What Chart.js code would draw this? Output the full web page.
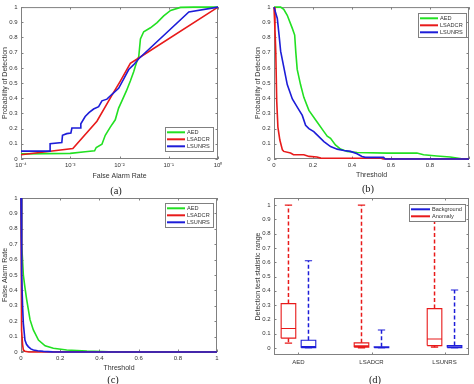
<!DOCTYPE html>
<html>
<head>
<meta charset="utf-8">
<script src="https://cdn.jsdelivr.net/npm/chart.js@4.4.0/dist/chart.umd.min.js"></script>
<style>
  body { margin: 0; background: #fff; }
  #fig { position: relative; width: 474px; height: 384px; overflow: hidden; background: #fff; }
  canvas { position: absolute; }
  .cap { position: absolute; font-family: 'Liberation Serif', serif; font-size: 10.5px; color: #222; transform: translate(-50%, -50%); white-space: nowrap; }
</style>
</head>
<body>
<div id="fig">
  <canvas id="chartA" width="237" height="200" style="left:0;top:0"></canvas>
  <canvas id="chartB" width="237" height="200" style="left:237px;top:0"></canvas>
  <canvas id="chartC" width="237" height="194" style="left:0;top:190px"></canvas>
  <canvas id="chartD" width="237" height="194" style="left:237px;top:190px"></canvas>
  <div class="cap" style="left:116px;top:190px">(a)</div>
  <div class="cap" style="left:368px;top:188px">(b)</div>
  <div class="cap" style="left:113px;top:379px">(c)</div>
  <div class="cap" style="left:375px;top:379px">(d)</div>
</div>
<script>
// ---- data ----
const methods = ['AED', 'LSADCR', 'LSUNRS'];

const yTicks = [0, 0.1, 0.2, 0.3, 0.4, 0.5, 0.6, 0.7, 0.8, 0.9, 1];
const yTickLabels = ['0', '0.1', '0.2', '0.3', '0.4', '0.5', '0.6', '0.7', '0.8', '0.9', '1'];
const thrTicks = [0, 0.2, 0.4, 0.6, 0.8, 1];
const thrTickLabels = ['0', '0.2', '0.4', '0.6', '0.8', '1'];
const farTicks = [1e-4, 1e-3, 1e-2, 1e-1, 1];
const farTickLabels = ['10⁻⁴', '10⁻³', '10⁻²', '10⁻¹', '10⁰'];

// (a) ROC: false alarm rate vs probability of detection
const aedFarA = [1e-4, 1e-3, 2.01e-3, 3.12e-3, 3.37e-3, 4.4e-3, 5.14e-3, 6.5e-3, 8.2e-3, 9.6e-3, 1.12e-2, 1.38e-2, 1.66e-2, 1.94e-2, 2.2e-2, 2.46e-2, 2.66e-2, 3.1e-2, 4.25e-2, 5.8e-2, 7.9e-2, 0.109, 0.173, 0.324, 1];
const aedPdA = [0.034, 0.037, 0.048, 0.054, 0.076, 0.097, 0.156, 0.21, 0.258, 0.335, 0.383, 0.448, 0.513, 0.574, 0.632, 0.675, 0.79, 0.838, 0.864, 0.898, 0.942, 0.978, 0.998, 1, 1];
const lsadcrFarA = [1e-4, 1.13e-3, 3.48e-3, 7.04e-3, 1.04e-2, 1.66e-2, 2.46e-2, 1];
const lsadcrPdA = [0.028, 0.069, 0.249, 0.42, 0.513, 0.63, 0.665, 1];
const lsunrsFarA = [1e-4, 3.9e-4, 3.9e-4, 6.74e-4, 6.96e-4, 8.5e-4, 1.03e-3, 1.08e-3, 1.59e-3, 1.64e-3, 2.01e-3, 2.43e-3, 2.98e-3, 3.77e-3, 4.4e-3, 5.56e-3, 7.03e-3, 9.6e-3, 1.22e-2, 1.54e-2, 1.94e-2, 2.46e-2, 0.256, 1];
const lsunrsPdA = [0.052, 0.052, 0.1, 0.108, 0.156, 0.167, 0.171, 0.204, 0.204, 0.232, 0.28, 0.307, 0.329, 0.344, 0.383, 0.394, 0.426, 0.465, 0.528, 0.589, 0.621, 0.66, 0.968, 1];

// (b) threshold vs probability of detection
const aedThrB = [0, 0.034, 0.05, 0.068, 0.094, 0.106, 0.112, 0.119, 0.136, 0.153, 0.179, 0.221, 0.256, 0.273, 0.29, 0.315, 0.341, 0.375, 0.426, 0.58, 0.733, 0.767, 0.835, 0.903, 0.937, 0.97, 1];
const aedPdB = [1, 1, 0.985, 0.946, 0.86, 0.816, 0.7, 0.59, 0.49, 0.406, 0.32, 0.244, 0.18, 0.15, 0.136, 0.093, 0.065, 0.05, 0.043, 0.039, 0.039, 0.028, 0.02, 0.013, 0.006, 0, 0];
const lsadcrThrB = [0, 0.005, 0.009, 0.014, 0.02, 0.03, 0.043, 0.05, 0.085, 0.1, 0.153, 0.18, 0.22, 0.24, 0.3, 0.55, 0.56, 1];
const lsadcrPdB = [1, 0.85, 0.71, 0.38, 0.21, 0.125, 0.06, 0.05, 0.039, 0.028, 0.028, 0.017, 0.013, 0.006, 0.005, 0.005, 0, 0];
const lsunrsThrB = [0, 0.003, 0.017, 0.026, 0.034, 0.051, 0.068, 0.094, 0.12, 0.145, 0.162, 0.179, 0.204, 0.23, 0.256, 0.29, 0.324, 0.358, 0.392, 0.426, 0.451, 0.468, 0.562, 0.57, 1];
const lsunrsPdB = [1, 1, 0.925, 0.816, 0.71, 0.6, 0.49, 0.395, 0.34, 0.287, 0.222, 0.2, 0.18, 0.147, 0.115, 0.082, 0.065, 0.056, 0.05, 0.035, 0.017, 0.011, 0.011, 0, 0];

// (c) threshold vs false alarm rate
const aedThrC = [0, 0.002, 0.005, 0.012, 0.02, 0.029, 0.046, 0.063, 0.089, 0.123, 0.165, 0.233, 0.336, 0.45, 0.6, 1];
const aedFarC = [1, 0.85, 0.7, 0.5, 0.42, 0.34, 0.21, 0.143, 0.078, 0.04, 0.024, 0.013, 0.006, 0.002, 0, 0];
const lsadcrThrC = [0, 0.001, 0.003, 0.005, 0.008, 0.012, 0.02, 0.04, 1];
const lsadcrFarC = [1, 0.6, 0.3, 0.14, 0.05, 0.013, 0.005, 0, 0];
const lsunrsThrC = [0, 0.002, 0.005, 0.008, 0.012, 0.02, 0.028, 0.037, 0.05, 0.063, 0.085, 0.114, 0.16, 0.25, 1];
const lsunrsFarC = [1, 0.75, 0.5, 0.3, 0.186, 0.078, 0.05, 0.035, 0.02, 0.013, 0.008, 0.004, 0.001, 0, 0];

// (d) box plots of the detection statistic
const groupPos = [1, 2, 3];
const anomMin = [0.033, 0, 0.005];
const anomQ1 = [0.068, 0.005, 0.016];
const anomMed = [0.136, 0.014, 0.062];
const anomQ3 = [0.31, 0.035, 0.275];
const anomMax = [1, 1, 1];
const bgMin = [0, 0, 0];
const bgQ1 = [0.001, 0.001, 0.002];
const bgMed = [0.009, 0.003, 0.008];
const bgQ3 = [0.053, 0.007, 0.017];
const bgMax = [0.61, 0.125, 0.405];

// ---- styles ----
const green = '#22e022';
const red = '#e81a1a';
const blue = '#1d1dd8';
const textCol = '#333';
const frameCol = '#808080';
const tickFont = { family: 'Liberation Sans', size: 6 };
const titleFont = { family: 'Liberation Sans', size: 7 };

Chart.defaults.font.family = 'Liberation Sans';

function pts(xs, ys) {
  return xs.map((x, i) => ({ x: x, y: ys[i] }));
}

function curve(label, color, xs, ys, order) {
  return {
    label: label, data: pts(xs, ys), borderColor: color, backgroundColor: color,
    borderWidth: 1.6, pointRadius: 0, showLine: true, tension: 0, clip: 4,
    order: order, inLegend: true
  };
}

function axisX(type, min, max, ticks, labels, title, height, pad) {
  return {
    type: type, min: min, max: max,
    grid: { display: false, drawTicks: false },
    border: { display: false },
    ticks: { padding: pad, font: tickFont, color: textCol, autoSkip: false, maxRotation: 0,
      callback: (v, i) => labels[i] },
    afterBuildTicks: (s) => { s.ticks = ticks.map(v => ({ value: v })); },
    afterFit: (s) => { s.height = height; },
    title: { display: !!title, text: title || '', font: titleFont, color: textCol, padding: { top: 0, bottom: 0 } }
  };
}

function axisY(min, max, title, width, titlePad) {
  return {
    type: 'linear', min: min, max: max,
    grid: { display: false, drawTicks: false },
    border: { display: false },
    ticks: { padding: 3.5, font: tickFont, color: textCol, autoSkip: false,
      callback: (v, i) => yTickLabels[i] },
    afterBuildTicks: (s) => { s.ticks = yTicks.map(v => ({ value: v })); },
    afterFit: (s) => { s.width = width; },
    title: { display: true, text: title, font: titleFont, color: textCol, padding: { top: titlePad, bottom: 0 } }
  };
}

// box with inward ticks on all sides, plus a boxed legend inside the plot
const matlabAxes = {
  id: 'matlabAxes',
  beforeDatasetsDraw(chart) {
    const { ctx, chartArea: a } = chart;
    const sx = chart.scales.x, sy = chart.scales.y;
    ctx.save();
    ctx.strokeStyle = frameCol;
    ctx.lineWidth = 1;
    ctx.strokeRect(a.left + 0.5, a.top + 0.5, a.width - 1, a.height - 1);
    ctx.beginPath();
    sx.ticks.forEach(t => {
      const p = Math.round(sx.getPixelForValue(t.value)) + 0.5;
      ctx.moveTo(p, a.bottom); ctx.lineTo(p, a.bottom - 2.5);
      ctx.moveTo(p, a.top); ctx.lineTo(p, a.top + 2.5);
    });
    sy.ticks.forEach(t => {
      const p = Math.round(sy.getPixelForValue(t.value)) + 0.5;
      ctx.moveTo(a.left, p); ctx.lineTo(a.left + 2.5, p);
      ctx.moveTo(a.right, p); ctx.lineTo(a.right - 2.5, p);
    });
    ctx.stroke();
    ctx.restore();
  },
  afterDraw(chart, args, opts) {
    const items = chart.data.datasets.filter(d => d.inLegend);
    if (!items.length) return;
    const { ctx, chartArea: a } = chart;
    ctx.save();
    ctx.font = '5.6px "Liberation Sans"';
    const tw = Math.max(...items.map(d => ctx.measureText(d.label).width));
    const rowH = 7;
    const w = Math.round(2 + opts.lineLen + 2 + tw + 3);
    const h = Math.round(items.length * rowH + 3);
    const x0 = Math.round(a.right - opts.dx - w);
    const y0 = Math.round(opts.corner === 'se' ? a.bottom - opts.dy - h : a.top + opts.dy);
    ctx.fillStyle = '#fff';
    ctx.fillRect(x0, y0, w, h);
    ctx.strokeStyle = frameCol;
    ctx.lineWidth = 1;
    ctx.strokeRect(x0 + 0.5, y0 + 0.5, w, h);
    items.forEach((d, i) => {
      const cy = y0 + 1.8 + rowH * (i + 0.5);
      ctx.strokeStyle = d.borderColor;
      ctx.lineWidth = 2;
      ctx.setLineDash([]);
      ctx.beginPath();
      ctx.moveTo(x0 + 2, cy);
      ctx.lineTo(x0 + 2 + opts.lineLen, cy);
      ctx.stroke();
      ctx.fillStyle = textCol;
      ctx.textBaseline = 'middle';
      ctx.textAlign = 'left';
      ctx.fillText(d.label, x0 + 4 + opts.lineLen, cy);
    });
    ctx.restore();
  }
};

function baseOptions(padding, scales, legendOpts) {
  return {
    responsive: false, animation: false, events: [],
    layout: { padding: padding },
    scales: scales,
    plugins: { legend: { display: false }, tooltip: { enabled: false }, matlabAxes: legendOpts }
  };
}

// (a)
new Chart(document.getElementById('chartA'), {
  type: 'scatter',
  data: { datasets: [
    curve('AED', green, aedFarA, aedPdA, 2),
    curve('LSADCR', red, lsadcrFarA, lsadcrPdA, 1),
    curve('LSUNRS', blue, lsunrsFarA, lsunrsPdA, 0)
  ] },
  options: baseOptions({ top: 5, right: 19, bottom: 20, left: 0 }, {
    x: axisX('logarithmic', 1e-4, 1, farTicks, farTickLabels, 'False Alarm Rate', 21, 3),
    y: axisY(0, 1, 'Probability of Detection', 21, 0.8)
  }, { corner: 'se', dx: 5, dy: 8, lineLen: 18 }),
  plugins: [matlabAxes]
});

// (b)
new Chart(document.getElementById('chartB'), {
  type: 'scatter',
  data: { datasets: [
    curve('AED', green, aedThrB, aedPdB, 2),
    curve('LSADCR', red, lsadcrThrB, lsadcrPdB, 1),
    curve('LSUNRS', blue, lsunrsThrB, lsunrsPdB, 0)
  ] },
  options: baseOptions({ top: 5, right: 5, bottom: 21, left: 0 }, {
    x: axisX('linear', 0, 1, thrTicks, thrTickLabels, 'Threshold', 20, 3.2),
    y: axisY(0, 1, 'Probability of Detection', 37, 16.8)
  }, { corner: 'ne', dx: 3, dy: 6, lineLen: 18 }),
  plugins: [matlabAxes]
});

// (c)
new Chart(document.getElementById('chartC'), {
  type: 'scatter',
  data: { datasets: [
    curve('AED', green, aedThrC, aedFarC, 2),
    curve('LSADCR', red, lsadcrThrC, lsadcrFarC, 1),
    curve('LSUNRS', blue, lsunrsThrC, lsunrsFarC, 0)
  ] },
  options: baseOptions({ top: 8, right: 20, bottom: 12, left: 0 }, {
    x: axisX('linear', 0, 1, thrTicks, thrTickLabels, 'Threshold', 20, 3.2),
    y: axisY(0, 1, 'False Alarm Rate', 21, 0.8)
  }, { corner: 'ne', dx: 4, dy: 5, lineLen: 18 }),
  plugins: [matlabAxes]
});

// (d) box plots built from the quartile arrays
const boxHalf = 0.1;
const capHalf = 0.05;
const groupShift = 0.137;

function boxOutlines(offset, lo, q1, med, q3, hi) {
  const out = [];
  groupPos.forEach((g, i) => {
    const x = g + offset;
    out.push({ x: x - boxHalf, y: q1[i] }, { x: x + boxHalf, y: q1[i] }, { x: x + boxHalf, y: q3[i] },
      { x: x - boxHalf, y: q3[i] }, { x: x - boxHalf, y: q1[i] }, { x: x, y: null });
    out.push({ x: x - boxHalf, y: med[i] }, { x: x + boxHalf, y: med[i] }, { x: x, y: null });
    out.push({ x: x - capHalf, y: hi[i] }, { x: x + capHalf, y: hi[i] }, { x: x, y: null });
    out.push({ x: x - capHalf, y: lo[i] }, { x: x + capHalf, y: lo[i] }, { x: x, y: null });
  });
  return out;
}

function whiskers(offset, lo, q1, q3, hi) {
  const out = [];
  groupPos.forEach((g, i) => {
    const x = g + offset;
    out.push({ x: x, y: q3[i] }, { x: x, y: hi[i] }, { x: x, y: null });
    out.push({ x: x, y: q1[i] }, { x: x, y: lo[i] }, { x: x, y: null });
  });
  return out;
}

function boxSet(label, color, data, dashed, inLegend) {
  return {
    label: label, data: data, borderColor: color, backgroundColor: color,
    borderWidth: dashed ? 1.5 : 1.1, borderDash: dashed ? [4, 2.5] : [],
    pointRadius: 0, showLine: true, tension: 0, spanGaps: false, clip: 3, inLegend: inLegend
  };
}

new Chart(document.getElementById('chartD'), {
  type: 'scatter',
  data: { datasets: [
    boxSet('Background', blue, boxOutlines(groupShift, bgMin, bgQ1, bgMed, bgQ3, bgMax), false, true),
    boxSet('Anomaly', red, boxOutlines(-groupShift, anomMin, anomQ1, anomMed, anomQ3, anomMax), false, true),
    boxSet('Background whiskers', blue, whiskers(groupShift, bgMin, bgQ1, bgQ3, bgMax), true, false),
    boxSet('Anomaly whiskers', red, whiskers(-groupShift, anomMin, anomQ1, anomQ3, anomMax), true, false)
  ] },
  options: baseOptions({ top: 8, right: 5, bottom: 17, left: 0 }, {
    x: axisX('linear', 0.665, 3.335, groupPos, methods, '', 12, 4.2),
    y: axisY(-0.05, 1.05, 'Detection test statistic range', 37, 16.8)
  }, { corner: 'ne', dx: 4, dy: 6, lineLen: 19 }),
  plugins: [matlabAxes]
});
</script>
</body>
</html>
